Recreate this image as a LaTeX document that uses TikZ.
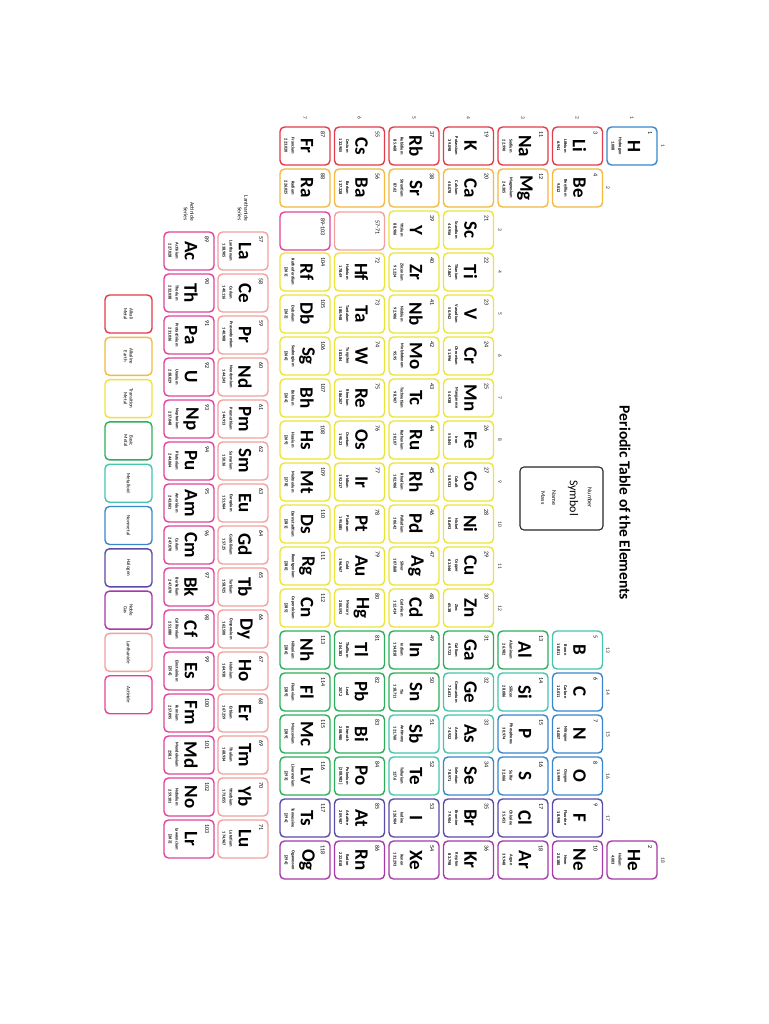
\documentclass[tikz,border=0pt]{standalone}
\usepackage{fontspec}
\setmainfont{Carlito}
\begin{document}
\begin{tikzpicture}[x=1pt,y=-1pt,
 cellbox/.style={line width=1.4pt,rounded corners=4.5pt},
 numtxt/.style={rotate=-90,font=\fontsize{6}{6}\selectfont,inner sep=0pt,anchor=west},
 symtxt/.style={rotate=-90,font=\fontsize{19}{19}\selectfont\bfseries,inner sep=0pt},
 nametxt/.style={rotate=-90,font=\fontsize{4.3}{4.3}\selectfont\bfseries,inner sep=0pt},
 lbl/.style={rotate=-90,font=\fontsize{5.5}{5.5}\selectfont,inner sep=0pt,text=black!80},
 legtxt/.style={rotate=-90,font=\fontsize{5}{5.6}\selectfont,inner sep=0pt,align=center}]
\definecolor{alk}{HTML}{E23B4A}\definecolor{ear}{HTML}{F4B942}
\definecolor{tra}{HTML}{EDE43A}\definecolor{bas}{HTML}{2EAE5C}
\definecolor{mld}{HTML}{45C4AE}\definecolor{non}{HTML}{3A86CC}
\definecolor{hal}{HTML}{5B4BA8}\definecolor{nob}{HTML}{A63AA8}
\definecolor{lan}{HTML}{F2A0A0}\definecolor{act}{HTML}{E0449A}
\useasboundingbox[fill=white] (0,0) rectangle (768,1024);
\newcommand\cell[7]{%
 \draw[#7,cellbox] (#1-25,#2-19) rectangle (#1+25,#2+19);
 \node[numtxt] at (#1+18,#2-15) {#3};
 \node[symtxt] at (#1+2,#2) {#4};
 \node[nametxt] at (#1-12,#2) {#5};
 \node[nametxt] at (#1-19,#2) {#6};}
\newcommand\E[7]{\pgfmathsetmacro\cx{632-54.5*(#1-1)}\pgfmathsetmacro\cy{146+42*(#2-1)}\cell{\cx}{\cy}{#3}{#4}{#5}{#6}{#7}}
\newcommand\F[7]{\pgfmathsetmacro\cy{251+42*(#2)}\cell{#1}{\cy}{#3}{#4}{#5}{#6}{#7}}
% title & key
\node[rotate=-90,font=\fontsize{15.5}{15.5}\selectfont\bfseries] (title) at (625,503) {Periodic Table of the Elements};
\draw[line width=1.1pt,rounded corners=4pt,black!85] (520,467) rectangle (603,530);
\node[rotate=-90,font=\fontsize{6}{6}\selectfont] at (590,498) {Number};
\node[rotate=-90,font=\fontsize{12}{12}\selectfont] at (573,498) {Symbol};
\node[rotate=-90,font=\fontsize{6}{6}\selectfont] at (554,498) {Name};
\node[rotate=-90,font=\fontsize{6}{6}\selectfont] at (543,498) {Mass};
% period labels
\foreach \p in {1,...,7}{\node[lbl] at ({632-54.5*(\p-1)},118) {\p};}
% group labels
\node[lbl] at (663,146) {1}; \node[lbl] at (608,188) {2};
\foreach \g in {3,...,12}{\node[lbl] at (500,{146+42*(\g-1)}) {\g};}
\foreach \g in {13,...,17}{\node[lbl] at (608,{146+42*(\g-1)}) {\g};}
\node[lbl] at (663,860) {18};
% elements
\E11{1}{H}{Hydrogen}{1.008}{non}
\E1{18}{2}{He}{Helium}{4.003}{nob}
\E21{3}{Li}{Lithium}{6.941}{alk}
\E22{4}{Be}{Beryllium}{9.012}{ear}
\E2{13}{5}{B}{Boron}{10.811}{mld}
\E2{14}{6}{C}{Carbon}{12.011}{non}
\E2{15}{7}{N}{Nitrogen}{14.007}{non}
\E2{16}{8}{O}{Oxygen}{15.999}{non}
\E2{17}{9}{F}{Fluorine}{18.998}{hal}
\E2{18}{10}{Ne}{Neon}{20.180}{nob}
\E31{11}{Na}{Sodium}{22.990}{alk}
\E32{12}{Mg}{Magnesium}{24.305}{ear}
\E3{13}{13}{Al}{Aluminum}{26.982}{bas}
\E3{14}{14}{Si}{Silicon}{28.086}{mld}
\E3{15}{15}{P}{Phosphorus}{30.974}{non}
\E3{16}{16}{S}{Sulfur}{32.066}{non}
\E3{17}{17}{Cl}{Chlorine}{35.453}{hal}
\E3{18}{18}{Ar}{Argon}{39.948}{nob}
\E41{19}{K}{Potassium}{39.098}{alk}
\E42{20}{Ca}{Calcium}{40.078}{ear}
\E43{21}{Sc}{Scandium}{44.956}{tra}
\E44{22}{Ti}{Titanium}{47.867}{tra}
\E45{23}{V}{Vanadium}{50.942}{tra}
\E46{24}{Cr}{Chromium}{51.996}{tra}
\E47{25}{Mn}{Manganese}{54.938}{tra}
\E48{26}{Fe}{Iron}{55.845}{tra}
\E49{27}{Co}{Cobalt}{58.933}{tra}
\E4{10}{28}{Ni}{Nickel}{58.693}{tra}
\E4{11}{29}{Cu}{Copper}{63.546}{tra}
\E4{12}{30}{Zn}{Zinc}{65.38}{tra}
\E4{13}{31}{Ga}{Gallium}{69.723}{bas}
\E4{14}{32}{Ge}{Germanium}{72.631}{mld}
\E4{15}{33}{As}{Arsenic}{74.922}{mld}
\E4{16}{34}{Se}{Selenium}{78.971}{non}
\E4{17}{35}{Br}{Bromine}{79.904}{hal}
\E4{18}{36}{Kr}{Krypton}{83.798}{nob}
\E51{37}{Rb}{Rubidium}{85.468}{alk}
\E52{38}{Sr}{Strontium}{87.62}{ear}
\E53{39}{Y}{Yttrium}{88.906}{tra}
\E54{40}{Zr}{Zirconium}{91.224}{tra}
\E55{41}{Nb}{Niobium}{92.906}{tra}
\E56{42}{Mo}{Molybdenum}{95.95}{tra}
\E57{43}{Tc}{Technetium}{98.907}{tra}
\E58{44}{Ru}{Ruthenium}{101.07}{tra}
\E59{45}{Rh}{Rhodium}{102.906}{tra}
\E5{10}{46}{Pd}{Palladium}{106.42}{tra}
\E5{11}{47}{Ag}{Silver}{107.868}{tra}
\E5{12}{48}{Cd}{Cadmium}{112.414}{tra}
\E5{13}{49}{In}{Indium}{114.818}{bas}
\E5{14}{50}{Sn}{Tin}{118.711}{bas}
\E5{15}{51}{Sb}{Antimony}{121.760}{mld}
\E5{16}{52}{Te}{Tellurium}{127.6}{mld}
\E5{17}{53}{I}{Iodine}{126.904}{hal}
\E5{18}{54}{Xe}{Xenon}{131.293}{nob}
\E61{55}{Cs}{Cesium}{132.905}{alk}
\E62{56}{Ba}{Barium}{137.328}{ear}
\E64{72}{Hf}{Hafnium}{178.49}{tra}
\E65{73}{Ta}{Tantalum}{180.948}{tra}
\E66{74}{W}{Tungsten}{183.84}{tra}
\E67{75}{Re}{Rhenium}{186.207}{tra}
\E68{76}{Os}{Osmium}{190.23}{tra}
\E69{77}{Ir}{Iridium}{192.217}{tra}
\E6{10}{78}{Pt}{Platinum}{195.085}{tra}
\E6{11}{79}{Au}{Gold}{196.967}{tra}
\E6{12}{80}{Hg}{Mercury}{200.592}{tra}
\E6{13}{81}{Tl}{Thallium}{204.383}{bas}
\E6{14}{82}{Pb}{Lead}{207.2}{bas}
\E6{15}{83}{Bi}{Bismuth}{208.980}{bas}
\E6{16}{84}{Po}{Polonium}{[208.982]}{bas}
\E6{17}{85}{At}{Astatine}{209.987}{hal}
\E6{18}{86}{Rn}{Radon}{222.018}{nob}
\E71{87}{Fr}{Francium}{223.020}{alk}
\E72{88}{Ra}{Radium}{226.025}{ear}
\E74{104}{Rf}{Rutherfordium}{[261]}{tra}
\E75{105}{Db}{Dubnium}{[262]}{tra}
\E76{106}{Sg}{Seaborgium}{[266]}{tra}
\E77{107}{Bh}{Bohrium}{[264]}{tra}
\E78{108}{Hs}{Hassium}{[269]}{tra}
\E79{109}{Mt}{Meitnerium}{[278]}{tra}
\E7{10}{110}{Ds}{Darmstadtium}{[281]}{tra}
\E7{11}{111}{Rg}{Roentgenium}{[280]}{tra}
\E7{12}{112}{Cn}{Copernicium}{[285]}{tra}
\E7{13}{113}{Nh}{Nihonium}{[286]}{bas}
\E7{14}{114}{Fl}{Flerovium}{[289]}{bas}
\E7{15}{115}{Mc}{Moscovium}{[289]}{bas}
\E7{16}{116}{Lv}{Livermorium}{[293]}{bas}
\E7{17}{117}{Ts}{Tennessine}{[294]}{hal}
\E7{18}{118}{Og}{Oganesson}{[294]}{nob}
% placeholders
\draw[lan,cellbox] (334.5,212) rectangle (384.5,250);
\node[numtxt] at (377.5,220) {57-71};
\draw[act,cellbox] (280,212) rectangle (330,250);
\node[numtxt] at (323,218) {89-103};
% series labels
\node[rotate=-90,font=\fontsize{5.5}{6.5}\selectfont,align=right,anchor=east,inner sep=0pt] at (243,221) {Lanthanide\\Series};
\node[rotate=-90,font=\fontsize{5.5}{6.5}\selectfont,align=right,anchor=east,inner sep=0pt] at (189,221) {Actinide\\Series};
% lanthanides
\F{243}{0}{57}{La}{Lanthanum}{138.905}{lan}
\F{243}{1}{58}{Ce}{Cerium}{140.116}{lan}
\F{243}{2}{59}{Pr}{Praseodymium}{140.908}{lan}
\F{243}{3}{60}{Nd}{Neodymium}{144.243}{lan}
\F{243}{4}{61}{Pm}{Promethium}{144.913}{lan}
\F{243}{5}{62}{Sm}{Samarium}{150.36}{lan}
\F{243}{6}{63}{Eu}{Europium}{151.964}{lan}
\F{243}{7}{64}{Gd}{Gadolinium}{157.25}{lan}
\F{243}{8}{65}{Tb}{Terbium}{158.925}{lan}
\F{243}{9}{66}{Dy}{Dysprosium}{162.500}{lan}
\F{243}{10}{67}{Ho}{Holmium}{164.930}{lan}
\F{243}{11}{68}{Er}{Erbium}{167.259}{lan}
\F{243}{12}{69}{Tm}{Thulium}{168.934}{lan}
\F{243}{13}{70}{Yb}{Ytterbium}{173.055}{lan}
\F{243}{14}{71}{Lu}{Lutetium}{174.967}{lan}
\F{189}{0}{89}{Ac}{Actinium}{227.028}{act}
\F{189}{1}{90}{Th}{Thorium}{232.038}{act}
\F{189}{2}{91}{Pa}{Protactinium}{231.036}{act}
\F{189}{3}{92}{U}{Uranium}{238.029}{act}
\F{189}{4}{93}{Np}{Neptunium}{237.048}{act}
\F{189}{5}{94}{Pu}{Plutonium}{244.064}{act}
\F{189}{6}{95}{Am}{Americium}{243.061}{act}
\F{189}{7}{96}{Cm}{Curium}{247.070}{act}
\F{189}{8}{97}{Bk}{Berkelium}{247.070}{act}
\F{189}{9}{98}{Cf}{Californium}{251.080}{act}
\F{189}{10}{99}{Es}{Einsteinium}{[254]}{act}
\F{189}{11}{100}{Fm}{Fermium}{257.095}{act}
\F{189}{12}{101}{Md}{Mendelevium}{258.1}{act}
\F{189}{13}{102}{No}{Nobelium}{259.101}{act}
\F{189}{14}{103}{Lr}{Lawrencium}{[262]}{act}
% legend
\foreach \t/\c [count=\i from 0] in {Alkali\\Metal/alk,Alkaline\\Earth/ear,Transition\\Metal/tra,Basic\\Metal/bas,Metalloid/mld,Nonmetal/non,Halogen/hal,Noble\\Gas/nob,Lanthanide/lan,Actinide/act}{
 \pgfmathsetmacro\ly{314+42.3*\i}
 \draw[\c,cellbox] (105,\ly-19) rectangle (152,\ly+19);
 \node[legtxt] at (128.5,\ly) {\t};}
\end{tikzpicture}
\end{document}
